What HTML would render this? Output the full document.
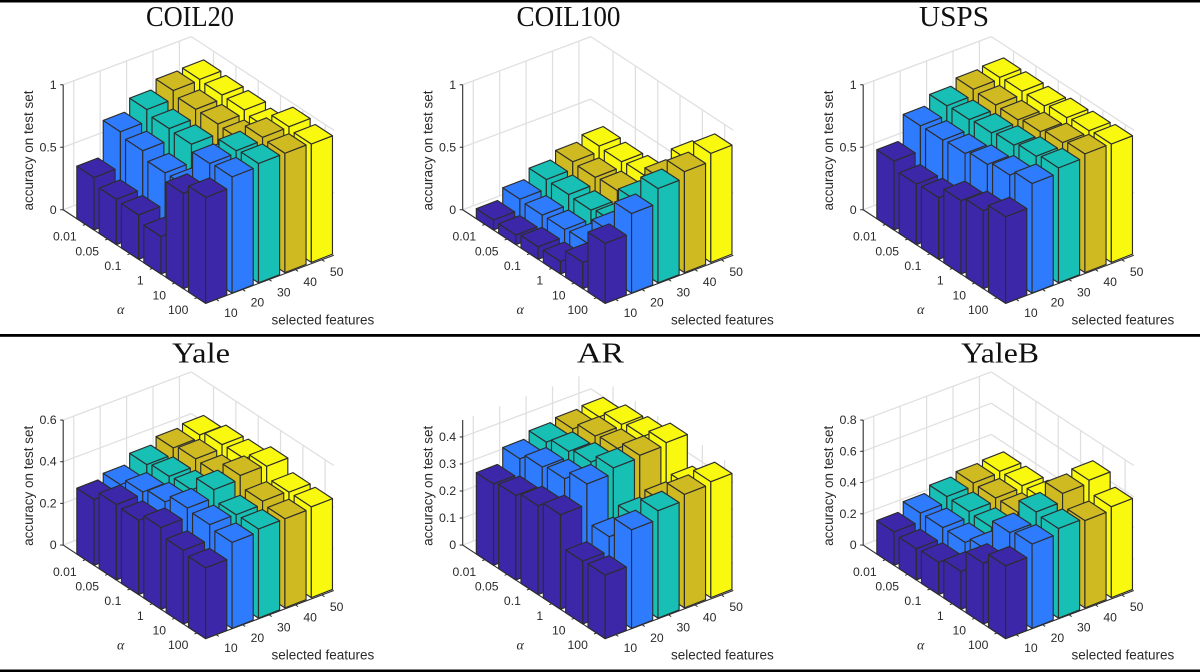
<!DOCTYPE html>
<html lang="en">
<head>
<meta charset="utf-8">
<title>Accuracy on test set by alpha and selected features</title>
<style>
html,body{margin:0;padding:0;background:#fff;width:1200px;height:672px;overflow:hidden}
svg{display:block;position:absolute;left:0;top:0;filter:blur(0.3px)}
text{font-family:"Liberation Sans",sans-serif;fill:#2a2a2a}
.title{font-family:"Liberation Serif",serif;fill:#111}
.alpha{font-family:"Liberation Serif",serif;font-style:italic}
</style>
</head>
<body>
<svg id="fig" width="1200" height="672" viewBox="0 0 1200 672" xmlns="http://www.w3.org/2000/svg">
<rect x="0" y="0" width="1200" height="2.5" fill="#000"/>
<rect x="0" y="334" width="1200" height="2.8" fill="#000"/>
<rect x="0" y="669.5" width="1200" height="2.5" fill="#000"/>
</svg>
<script>
const alphaLabels = ['0.01','0.05','0.1','1','10','100'];
const featureLabels = ['10','20','30','40','50'];
const seriesColors = ['#3b27a8','#2f7bfe','#17bfb5','#cfba22','#f9f80f'];

const coil20Ticks = ['0','0.5','1'];
const coil100Ticks = ['0','0.5','1'];
const uspsTicks = ['0','0.5','1'];
const yaleTicks = ['0','0.2','0.4','0.6'];
const arTicks = ['0','0.1','0.2','0.3','0.4'];
const yaleBTicks = ['0','0.2','0.4','0.6','0.8'];

/* accuracy rows: one row per selected-feature count, one value per alpha */
const coil20F10 = [.42,.363,.355,.30,.763,.848];
const coil20F20 = [.704,.67,.61,.61,.92,.93];
const coil20F30 = [.80,.765,.757,.72,.94,.955];
const coil20F40 = [.87,.837,.837,.83,.965,.955];
const coil20F50 = [.877,.87,.867,.843,.968,.947];

const coil100F10 = [.08,.077,.10,.10,.21,.48];
const coil100F20 = [.165,.155,.157,.168,.38,.637];
const coil100F30 = [.24,.237,.23,.253,.544,.755];
const coil100F40 = [.30,.293,.304,.30,.63,.808];
const coil100F50 = [.344,.336,.347,.35,.70,.872];

const uspsF10 = [.552,.485,.493,.587,.624,.693];
const uspsF20 = [.752,.755,.765,.795,.827,.877];
const uspsF30 = [.83,.837,.848,.867,.896,.92];
const uspsF40 = [.88,.872,.87,.893,.923,.95];
const uspsF50 = [.893,.90,.90,.923,.936,.947];

const yaleF10 = [.316,.362,.357,.393,.354,.34];
const yaleF20 = [.338,.373,.396,.437,.428,.413];
const yaleF30 = [.385,.399,.405,.476,.426,.428];
const yaleF40 = [.416,.434,.43,.495,.442,.428];
const yaleF50 = [.429,.453,.456,.49,.436,.436];

const arF10 = [.301,.3125,.329,.35,.2325,.235];
const arF20 = [.356,.38,.391,.426,.285,.365];
const arF30 = [.38,.40,.415,.4475,.321,.3975];
const arF40 = [.391,.419,.4275,.456,.34,.42];
const arF50 = [.3975,.424,.435,.465,.36,.429];

const yaleBF10 = [.214,.20,.207,.243,.389,.466];
const yaleBF20 = [.269,.27,.269,.311,.52,.54];
const yaleBF30 = [.309,.307,.30,.31,.586,.574];
const yaleBF40 = [.33,.328,.33,.33,.639,.559];
const yaleBF50 = [.339,.341,.345,.35,.658,.582];

const panels = [
  {slug:'coil20', title:'COIL20', dx:0, dy:0, titleX:146, titleW:88, zMax:1, ticks:coil20Ticks, rows:[coil20F10,coil20F20,coil20F30,coil20F40,coil20F50]},
  {slug:'coil100', title:'COIL100', dx:399.5, dy:0, titleX:516.5, titleW:104, zMax:1, ticks:coil100Ticks, rows:[coil100F10,coil100F20,coil100F30,coil100F40,coil100F50]},
  {slug:'usps', title:'USPS', dx:800, dy:0, titleX:919, titleW:70, zMax:1, ticks:uspsTicks, rows:[uspsF10,uspsF20,uspsF30,uspsF40,uspsF50]},
  {slug:'yale', title:'Yale', dx:0, dy:335.3, titleX:172, titleW:58, zMax:.6, ticks:yaleTicks, rows:[yaleF10,yaleF20,yaleF30,yaleF40,yaleF50]},
  {slug:'ar', title:'AR', dx:399.5, dy:335.3, titleX:577, titleW:47, zMax:.4625, ticks:arTicks, rows:[arF10,arF20,arF30,arF40,arF50]},
  {slug:'yaleb', title:'YaleB', dx:800, dy:335.3, titleX:961, titleW:78, zMax:.8, ticks:yaleBTicks, rows:[yaleBF10,yaleBF20,yaleBF30,yaleBF40,yaleBF50]}
];

const SVGNS = 'http://www.w3.org/2000/svg';
const fig = document.getElementById('fig');
const EDGE = '#2d2d2d', GRID = '#dfdfdf';
const X0 = 94, Y0 = 230, AX = 22.33, AY = 14.67, FX = 26.42, FY = -10.25, Z_PX = 125;
const A_MIN = -1.38, A_MAX = 5, F_MIN = 0, F_MAX = 4.85, BAR_A = 0.77, BAR_F = 0.8;
const WALL_DROP = 1.6;

function node(tag, parent, attrs) {
  const el = document.createElementNS(SVGNS, tag);
  for (const k in attrs) el.setAttribute(k, attrs[k]);
  parent.appendChild(el);
  return el;
}
/* axis functions: alpha index, feature index, value -> pixel */
function projector(p) {
  return function (a, f, v) {
    return [p.dx + X0 + a * AX + f * FX, p.dy + Y0 + a * AY + f * FY - (v / p.zMax) * Z_PX];
  };
}
function wallProjector(p) {
  const P = projector(p);
  return function (a, f, v) {
    const q = P(a, f, v);
    return [q[0], q[1] + WALL_DROP * f / F_MAX];
  };
}
function pts(list) {
  return list.map(q => q[0].toFixed(2) + ',' + q[1].toFixed(2)).join(' ');
}
function seg(parent, a, b, color, width, name) {
  const el = node('line', parent, {x1:a[0], y1:a[1], x2:b[0], y2:b[1], stroke:color, 'stroke-width':width});
  
  
  return el;
}
function label(parent, x, y, str, attrs, name) {
  const el = node('text', parent, Object.assign({x:x, y:y}, attrs));
  el.textContent = str;
  
  
  return el;
}

function drawPanel(p) {
  const P = projector(p);
  const W = wallProjector(p);
  const g = node('g', fig, {});
  
  

  /* title */
  label(g, p.titleX, p.dy + (p.dy ? 27 : 26), p.title,
    {'class':'title', 'font-size':28, textLength:p.titleW, lengthAdjust:'spacingAndGlyphs'}, 'panel-title');

  /* back walls: gridlines */
  p.ticks.forEach(t => {
    const v = Number(t);
    seg(g, W(A_MIN,F_MIN,v), W(A_MIN,F_MAX,v), GRID, 1.25, 'z-gridline-left-wall');
    seg(g, W(A_MIN,F_MAX,v), W(A_MAX,F_MAX,v), GRID, 1.25, 'z-gridline-right-wall');
  });
  featureLabels.forEach((t, j) => {
    const f = j + BAR_F / 2;
    seg(g, W(A_MIN,f,0), W(A_MIN,f,p.zMax), GRID, 1.25, 'feature-gridline-' + t);
  });
  alphaLabels.forEach((t, i) => {
    const a = i - BAR_A / 2;
    seg(g, W(a,F_MAX,0), W(a,F_MAX,p.zMax), GRID, 1.25, 'alpha-gridline-' + t);
  });

  /* axes */
  seg(g, W(A_MIN,F_MIN,0), W(A_MIN,F_MIN,p.zMax), EDGE, 1.1, 'z-axis-line');
  seg(g, W(A_MIN,F_MIN,0), W(A_MAX,F_MIN,0), EDGE, 1.1, 'alpha-axis-line');
  seg(g, W(A_MAX,F_MIN,0), W(A_MAX,F_MAX,0), EDGE, 1.1, 'feature-axis-line');

  /* z ticks + labels */
  p.ticks.forEach(t => {
    const q = W(A_MIN,F_MIN,Number(t));
    seg(g, q, [q[0] - 3, q[1]], EDGE, 1, 'z-tick');
    label(g, q[0] - 6.5, q[1] + 4, t, {'font-size':12.4, 'text-anchor':'end'}, 'z-tick-label');
  });

  /* alpha ticks + labels */
  alphaLabels.forEach((t, i) => {
    const a = i - BAR_A / 2;
    const q = W(a,F_MIN,0);
    seg(g, q, [q[0] - 2.6, q[1] + 1], EDGE, 1, 'alpha-tick');
    const r = W(i,-0.23,0);
    label(g, r[0] - 11.2, r[1] + 8.3, t, {'font-size':12.2, 'text-anchor':'end'}, 'alpha-tick-label');
  });

  /* feature ticks + labels */
  featureLabels.forEach((t, j) => {
    const f = j + BAR_F / 2;
    const q = W(A_MAX,f,0);
    seg(g, q, [q[0] + 2.6, q[1] + 1.7], EDGE, 1, 'feature-tick');
    const r = P(A_MAX,j,0);
    label(g, r[0] + 18.5, r[1] + 13.5, t, {'font-size':12.2}, 'feature-tick-label');
  });

  /* bars, back to front */
  for (let j = featureLabels.length - 1; j >= 0; j--) {
    for (let i = 0; i < alphaLabels.length; i++) {
      const v = p.rows[j][i];
      const bar = node('g', g, {fill:seriesColors[j], stroke:EDGE, 'stroke-width':1.15, 'stroke-linejoin':'round'});
      
      
      const a0 = i - BAR_A, a1 = i, f0 = j, f1 = j + BAR_F;
      const leftFace = node('polygon', bar, {points:pts([P(a0,f0,0),P(a1,f0,0),P(a1,f0,v),P(a0,f0,v)])});
      
      
      const rightFace = node('polygon', bar, {points:pts([P(a1,f0,0),P(a1,f1,0),P(a1,f1,v),P(a1,f0,v)])});
      
      
      const topFace = node('polygon', bar, {points:pts([P(a0,f0,v),P(a1,f0,v),P(a1,f1,v),P(a0,f1,v)])});
      
      
    }
  }

  /* axis titles */
  const yx = p.dx + 33, yy = p.dy + 150.5;
  label(g, yx, yy, 'accuracy on test set',
    {'font-size':13.5, 'text-anchor':'middle', transform:'rotate(-90 ' + yx + ' ' + yy + ')'}, 'y-axis-title');
  label(g, p.dx + 271.5, p.dy + 324.3, 'selected features', {'font-size':13.5}, 'feature-axis-title');
  label(g, p.dx + 117, p.dy + 314, 'α', {'class':'alpha', 'font-size':14}, 'alpha-axis-title');
}
panels.forEach(drawPanel);
</script>
</body>
</html>
